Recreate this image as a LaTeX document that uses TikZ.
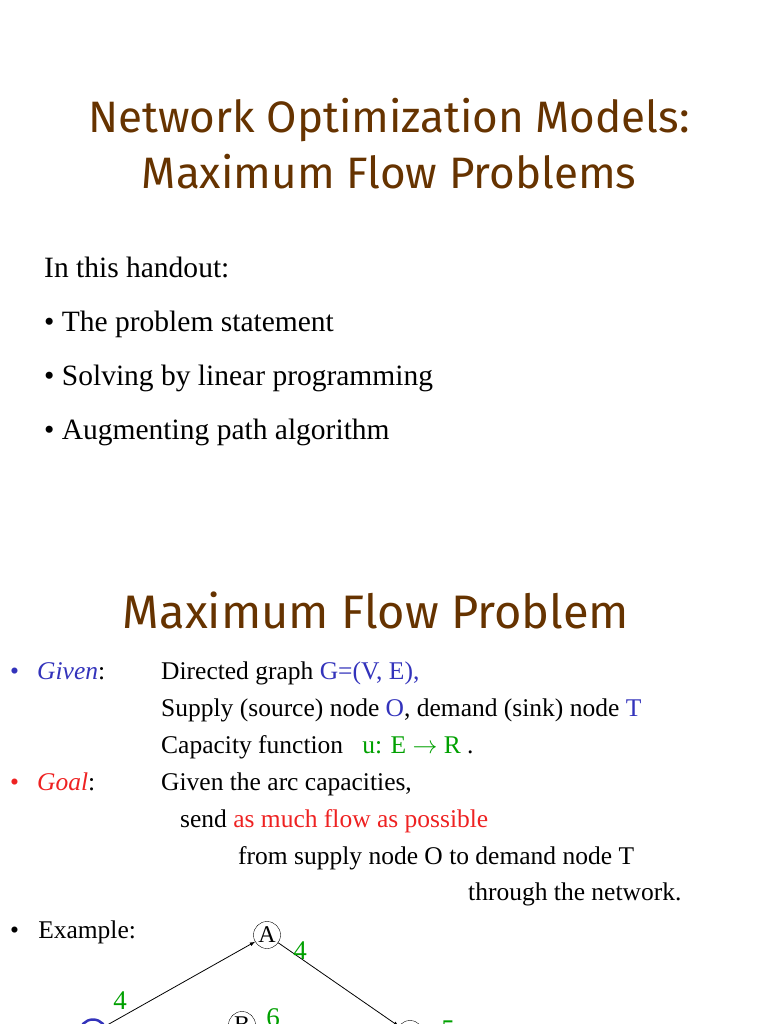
\documentclass[tikz,border=0pt]{standalone}
\usepackage{fontspec}
\setmainfont{Liberation Serif}
\newfontfamily\titlefont{Fira Sans}
\begin{document}
\begin{tikzpicture}[x=1pt,y=-1pt,
  ttl/.style={font=\titlefont\fontsize{44}{48}\selectfont,text=brn},
  bd/.style={anchor=base west,font=\fontsize{29.5}{32}\selectfont,inner sep=0},
  sm/.style={anchor=base west,font=\fontsize{25.5}{28}\selectfont,inner sep=0},
  vtx/.style={circle,draw,inner sep=0,minimum size=27pt,font=\fontsize{24}{26}\selectfont},
  lab/.style={font=\fontsize{27}{29}\selectfont,text=grn}]
\definecolor{brn}{HTML}{663300}
\definecolor{blu}{HTML}{3333BB}
\definecolor{grn}{HTML}{00A000}
\definecolor{rd}{HTML}{EE2222}
\useasboundingbox (0,0) rectangle (768,1024);
\clip (0,0) rectangle (768,1024);
\node[ttl] (t1) at (389,120) {Network Optimization Models:};
\node[ttl] (t2) at (389,172) {Maximum Flow Problems};
\node[bd] (h0) at (44,277) {In this handout:};
\node[bd] (h1) at (44,331) {\textbullet{} The problem statement};
\node[bd] (h2) at (44,385) {\textbullet{} Solving by linear programming};
\node[bd] (h3) at (44,439) {\textbullet{} Augmenting path algorithm};
\node[ttl,font=\titlefont\fontsize{47}{50}\selectfont] (t3) at (376,610) {Maximum Flow Problem};
\node[sm,text=blu] (b1) at (10,679) {\textbullet};
\node[sm] (g0) at (37,679) {\textcolor{blu}{\textit{Given}}:};
\node[sm] (g1) at (161,679) {Directed graph \textcolor{blu}{G=(V, E),}};
\node[sm] (g2) at (161,716) {Supply (source) node \textcolor{blu}{O}, demand (sink) node \textcolor{blu}{T}};
\node[sm] (g3) at (161,753) {Capacity function \ \ \textcolor{grn}{u: E $\rightarrow$ R} .};
\node[sm,text=rd] (b2) at (10,790) {\textbullet};
\node[sm] (o0) at (37,790) {\textcolor{rd}{\textit{Goal}}:};
\node[sm] (o1) at (161,790) {Given the arc capacities,};
\node[sm] (o2) at (180,827) {send \textcolor{rd}{as much flow as possible}};
\node[sm] (o3) at (238,864) {from supply node O to demand node T};
\node[sm] (o4) at (468,900) {through the network.};
\node[sm] (e0) at (10,938) {\textbullet\ \ \ Example:};
\node[vtx] (A) at (267,935) {A};
\node[vtx,draw=blu,line width=2.5pt] (O) at (93,1033) {O};
\node[vtx] (B) at (242,1025) {B};
\node[vtx] (D) at (410,1034) {D};
\draw[-latex,line width=0.8pt] (O) -- (A);
\draw[-latex,line width=0.8pt] (A) -- (D);
\node[lab] (l1) at (300,951) {4};
\node[lab] (l2) at (120,1001) {4};
\node[lab] (l3) at (273,1018) {6};
\node[lab] (l4) at (448,1030) {5};
\end{tikzpicture}
\end{document}
